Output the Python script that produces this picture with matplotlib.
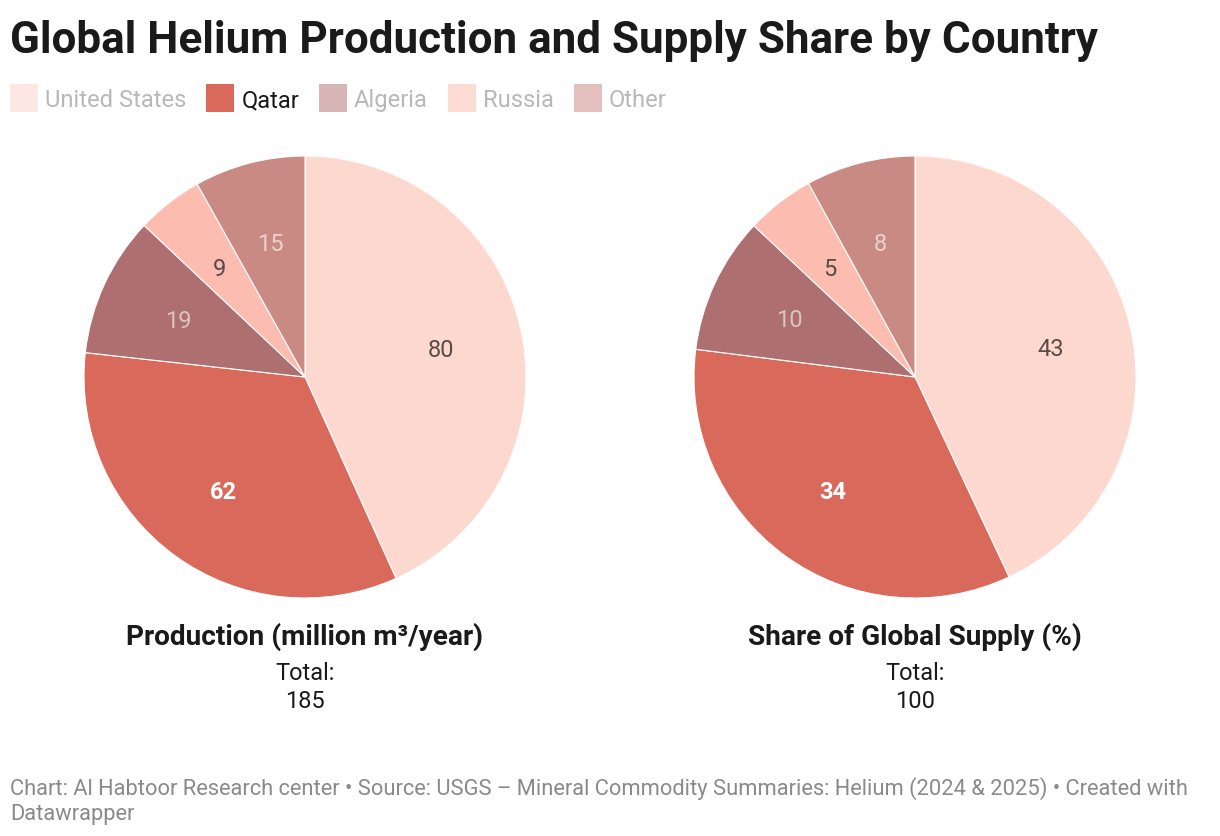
import matplotlib.pyplot as plt
from matplotlib.patches import Rectangle

plt.rcParams['font.family'] = ['Roboto', 'DejaVu Sans']

# === DATA ===
countries = ["United States", "Qatar", "Algeria", "Russia", "Other"]
production = [80, 62, 19, 9, 15]
share = [43, 34, 10, 5, 8]
panel_titles = ["Production (million m³/year)", "Share of Global Supply (%)"]
totals = ["185", "100"]

# === STYLE ===
slice_colors = ["#fdd8cf", "#d8695b", "#ad6f6f", "#fdbcb0", "#c98a84"]
legend_colors = ["#fde7e2", "#d8695b", "#d8b6b6", "#fddcd6", "#e3c0be"]
legend_text_colors = ["#b8b8b8", "#1a1a1a", "#b8b8b8", "#b8b8b8", "#b8b8b8"]
label_colors = ["#5a4b48", "#ffffff", "#dcc3c1", "#5a4b48", "#ead2ce"]
label_weights = ["normal", "bold", "normal", "normal", "normal"]

W, H = 1220, 836
fig = plt.figure(figsize=(W / 100, H / 100), dpi=100)

def px(x, y):
    return x / W, 1 - y / H

# title
fig.text(*px(10, 37), "Global Helium Production and Supply Share by Country",
         fontsize=31.7, fontweight="bold", color="#1a1a1a", va="center_baseline", ha="left")

# legend
renderer = fig.canvas.get_renderer()
x = 10
for name, col, tcol in zip(countries, legend_colors, legend_text_colors):
    fig.patches.append(Rectangle(px(x, 112), 28 / W, 28 / H, transform=fig.transFigure,
                                 facecolor=col, edgecolor="none"))
    t = fig.text(*px(x + 35, 98), name, fontsize=17.1, color=tcol,
                 va="center_baseline", ha="left")
    bb = t.get_window_extent(renderer)
    x = x + 35 + bb.width + 20

# pies
centers = [305, 915]
radius = 221
for cx, values, title, total in zip(centers, [production, share], panel_titles, totals):
    ax = fig.add_axes([(cx - radius) / W, (H - 377 - radius) / H, 2 * radius / W, 2 * radius / H])
    wedges, texts = ax.pie(values, labels=[str(v) for v in values], colors=slice_colors,
                           startangle=90, counterclock=False, labeldistance=0.63,
                           wedgeprops=dict(edgecolor="white", linewidth=0.8),
                           textprops=dict(fontsize=17, ha="center", va="center_baseline"))
    for t, c, w in zip(texts, label_colors, label_weights):
        t.set_color(c)
        t.set_fontweight(w)
        t.set_ha("center")
        t.set_va("center_baseline")
    ax.set_xlim(-1, 1)
    ax.set_ylim(-1, 1)
    ax.set_aspect("equal")
    ax.axis("off")
    fig.text(*px(cx, 634), title, fontsize=20.2, fontweight="bold", color="#1a1a1a",
             ha="center", va="center_baseline")
    fig.text(*px(cx, 671), "Total:", fontsize=17, color="#1a1a1a", ha="center",
             va="center_baseline")
    fig.text(*px(cx, 699), total, fontsize=17, color="#1a1a1a", ha="center",
             va="center_baseline")

# footer
fig.text(*px(10, 786), "Chart: Al Habtoor Research center • Source: USGS – Mineral Commodity "
         "Summaries: Helium (2024 & 2025) • Created with", fontsize=15.75, color="#8a8a8a",
         ha="left", va="center_baseline")
fig.text(*px(10, 812), "Datawrapper", fontsize=15.75, color="#8a8a8a", ha="left",
         va="center_baseline")

fig.savefig("out.png", dpi=100, facecolor="white")
